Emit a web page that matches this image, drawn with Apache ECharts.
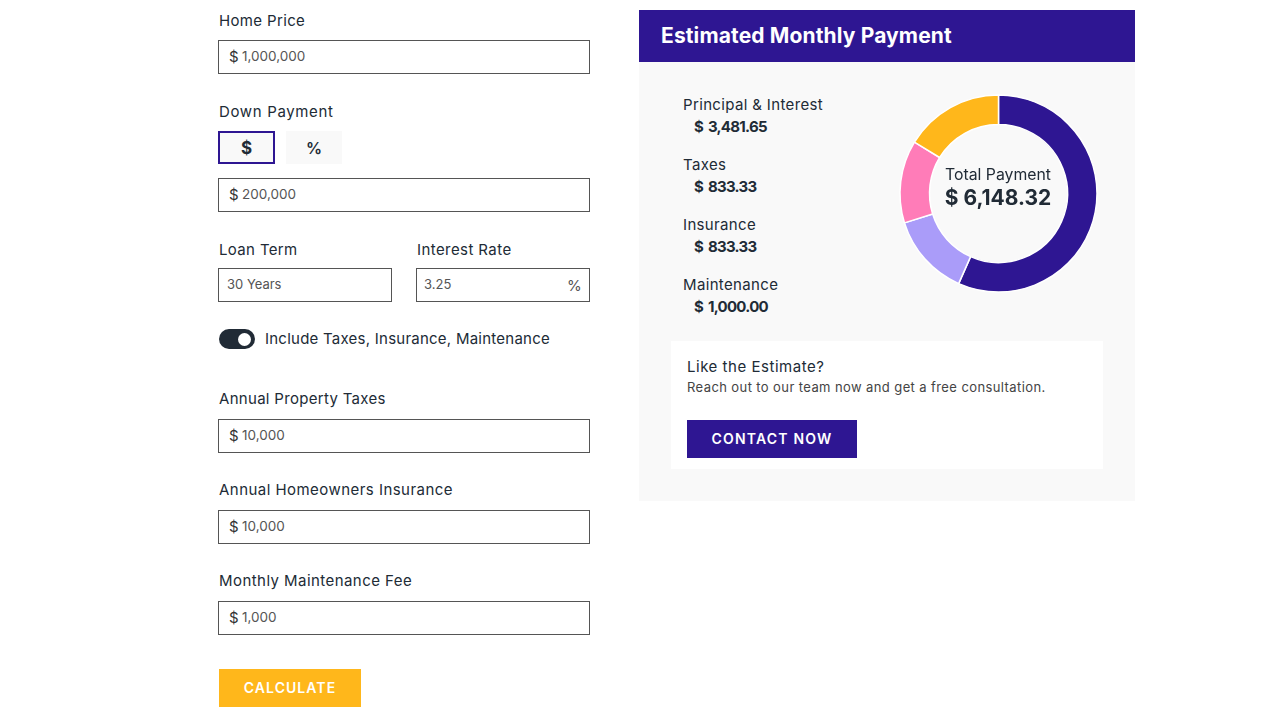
<!DOCTYPE html>
<html>
<head>
<meta charset="utf-8">
<title>Estimated Monthly Payment</title>
<script src="https://cdn.jsdelivr.net/npm/echarts@6/dist/echarts.min.js"></script>
<style>
	html, body { margin: 0; padding: 0; background: #fff; }
	body { position: relative; width: 1280px; height: 720px; overflow: hidden; font-family: Inter, "Noto Sans", sans-serif; color: #212b36; }
	.abs, .lbl, .box, .val { position: absolute; white-space: nowrap; }
	.lbl { left: 219px; font-size: 15px; line-height: 20px; letter-spacing: .35px; }
	.box { left: 218px; width: 370px; height: 32px; border: 1px solid #555; background: #fff; font-size: 13.5px; line-height: 31px; color: #555; }
	.box b { position: absolute; left: 10px; font-weight: 400; font-size: 15px; color: #333; }
	.box span { position: absolute; left: 23px; }
	.leg { position: absolute; left: 683px; font-size: 15px; line-height: 20px; letter-spacing: .35px; }
	.val { left: 694px; font-size: 15px; line-height: 20px; font-weight: 700; letter-spacing: -.72px; word-spacing: 2px; }
	#chart { position: absolute; left: 888px; top: 80px; width: 220px; height: 226px; }
</style>
</head>
<body>
	<!-- 左侧表单 -->
	<div class="lbl" style="top:11px">Home Price</div>
	<div class="box" style="top:40px"><b>$</b><span>1,000,000</span></div>

	<div class="lbl" style="top:102px;letter-spacing:.65px">Down Payment</div>
	<div class="abs" style="left:218px;top:131px;width:53px;height:29px;border:2px solid #2e1692;background:#f9f9f9;text-align:center;font-size:17px;line-height:30px;font-weight:700">$</div>
	<div class="abs" style="left:286px;top:131px;width:56px;height:33px;background:#f9f9f9;text-align:center;font-size:16px;line-height:34px;font-weight:600">%</div>
	<div class="box" style="top:178px"><b>$</b><span>200,000</span></div>

	<div class="lbl" style="top:240px">Loan Term</div>
	<div class="lbl" style="top:240px;left:417px;letter-spacing:.42px">Interest Rate</div>
	<div class="box" style="top:268px;width:172px;font-size:13px"><span style="left:8px">30 Years</span></div>
	<div class="box" style="top:268px;left:416px;width:172px;font-size:13px"><span style="left:7px">3.25</span><span style="left:150px;top:1px;font-size:15px">%</span></div>

	<div class="abs" style="left:218.5px;top:328.5px;width:36.5px;height:20px;border-radius:10px;background:#212b36"></div>
	<div class="abs" style="left:238px;top:332.5px;width:13px;height:13px;border-radius:7px;background:#fff"></div>
	<div class="lbl" style="top:329px;left:265px;letter-spacing:.24px">Include Taxes, Insurance, Maintenance</div>

	<div class="lbl" style="top:389px;letter-spacing:.3px">Annual Property Taxes</div>
	<div class="box" style="top:419px"><b>$</b><span>10,000</span></div>
	<div class="lbl" style="top:480px;letter-spacing:.46px">Annual Homeowners Insurance</div>
	<div class="box" style="top:510px"><b>$</b><span>10,000</span></div>
	<div class="lbl" style="top:571px;letter-spacing:.44px">Monthly Maintenance Fee</div>
	<div class="box" style="top:601px"><b>$</b><span>1,000</span></div>

	<div class="abs" style="left:219px;top:669px;width:142px;height:38px;background:#ffb71b;color:#fff;text-align:center;font-size:14px;line-height:38px;font-weight:600;letter-spacing:1.05px">CALCULATE</div>

	<!-- 右侧结果 -->
	<div class="abs" style="left:639px;top:10px;width:496px;height:491px;background:#f9f9f9"></div>
	<div class="abs" style="left:639px;top:10px;width:474px;height:52px;padding-left:22px;background:#2e1692;color:#fff;font-size:21px;line-height:51px;font-weight:700;letter-spacing:.13px">Estimated Monthly Payment</div>
	<div id="legend"></div>
	<div id="chart"></div>

	<div class="abs" style="left:671px;top:341px;width:432px;height:128px;background:#fff"></div>
	<div class="abs" style="left:687px;top:357px;font-size:15px;line-height:20px;letter-spacing:.53px">Like the Estimate?</div>
	<div class="abs" style="left:687px;top:378px;font-size:13px;line-height:18px;color:#444;letter-spacing:.4px">Reach out to our team now and get a free consultation.</div>
	<div class="abs" style="left:687px;top:420px;width:170px;height:38px;background:#2e1692;color:#fff;text-align:center;font-size:14px;line-height:38px;font-weight:600;letter-spacing:1.2px">CONTACT NOW</div>

<script>
var categories = ['Principal & Interest', 'Taxes', 'Insurance', 'Maintenance'];
var payments = [3481.65, 833.33, 833.33, 1000.00];
var paymentText = ['$ 3,481.65', '$ 833.33', '$ 833.33', '$ 1,000.00'];
var sliceColors = ['#2e1692', '#aa9cf9', '#ff7cb8', '#ffb71b'];
var totalLabel = 'Total Payment';
var totalText = '$ 6,148.32';

$legend();
$chart();

// 左边的说明文字
function $legend() {
	var html = '';
	for (var i = 0; i < categories.length; i++) {
		var top = 95 + i * 60;
		html += '<div class="leg" style="top:' + top + 'px">' + categories[i].replace('&', '&amp;') + '</div>';
		html += '<div class="val" style="top:' + (top + 22) + 'px">' + paymentText[i] + '</div>';
	}
	document.getElementById('legend').innerHTML = html;
}

// 环形图
function $chart() {
	var myChart = echarts.init(document.getElementById('chart'));
	var seriesData = [];
	for (var i = 0; i < categories.length; i++) {
		seriesData.push({ name: categories[i], value: payments[i], itemStyle: { color: sliceColors[i] } });
	}
	myChart.setOption({
		animation: false,
		title: {
			text: totalLabel,
			subtext: totalText,
			left: 'center',
			top: 82,
			itemGap: 5,
			textStyle: { color: '#212b36', fontSize: 15.8, fontWeight: 400, fontFamily: 'Inter' },
			subtextStyle: { color: '#212b36', fontSize: 21, fontWeight: 700, fontFamily: 'Inter' }
		},
		series: [{
			type: 'pie',
			center: [110.5, 113.5],
			radius: [69, 98.5],
			startAngle: 90,
			silent: true,
			label: { show: false },
			labelLine: { show: false },
			itemStyle: { borderColor: '#fff', borderWidth: 1.5 },
			data: seriesData
		}]
	});
}
</script>
</body>
</html>
